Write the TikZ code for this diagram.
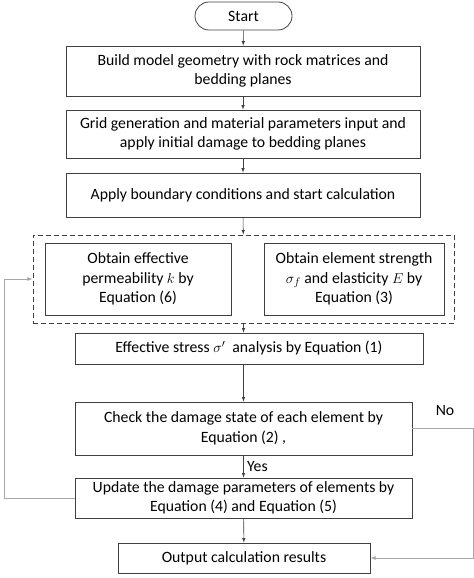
\documentclass[tikz,border=0pt]{standalone}
\usepackage{fontspec}
\setmainfont{Carlito}
\usetikzlibrary{arrows,positioning,shapes,calc,backgrounds}
\usepackage{xcolor}
\definecolor{boxline}{HTML}{404040}
\definecolor{loopline}{HTML}{A8A8A8}

\begin{document}
\begin{tikzpicture}[x=1bp,y=-1bp,
    stepbox/.style={draw=boxline,line width=0.8pt,align=center,inner sep=2pt,
      font=\fontsize{15.8}{19.5}\selectfont},
    flow/.style={draw=boxline,line width=0.6pt,-latex},
    back/.style={draw=loopline,line width=0.8pt,-latex}]
    \useasboundingbox (0,0) rectangle (474,578);
    \node[stepbox,rounded corners=14bp,minimum width=97bp,minimum height=28bp] (start) at (243.5,16) {Start};
    \node[stepbox,minimum width=354bp,minimum height=50bp] (build) at (243,71) {Build model geometry with rock matrices and\\bedding planes};
    \node[stepbox,minimum width=354bp,minimum height=48bp] (grid) at (243,134) {Grid generation and material parameters input and\\apply initial damage to bedding planes};
    \node[stepbox,minimum width=354bp,minimum height=44bp] (bound) at (243,195) {Apply boundary conditions and start calculation};
    \node[draw=boxline,dash pattern=on 5bp off 3bp,line width=0.8pt,minimum width=421bp,minimum height=88bp] (group) at (243.5,279) {};
    \node[stepbox,minimum width=186bp,minimum height=72bp] (perm) at (138,279) {Obtain effective\\permeability $k$ by\\Equation (6)};
    \node[stepbox,minimum width=180bp,minimum height=72bp] (strength) at (354,279) {Obtain element strength\\$\sigma_f$ and elasticity $E$ by\\Equation (3)};
    \node[stepbox,minimum width=348bp,minimum height=31bp] (stress) at (249,348.5) {Effective stress $\sigma'$~ analysis by Equation (1)};
    \node[stepbox,minimum width=337bp,minimum height=53bp] (check) at (243.5,428.5) {Check the damage state of each element by\\Equation (2) ,};
    \node[stepbox,minimum width=337bp,minimum height=40bp] (update) at (243.5,498) {Update the damage parameters of elements by\\Equation (4) and Equation (5)};
    \node[stepbox,minimum width=252bp,minimum height=30bp] (output) at (244,558) {Output calculation results};
    \coordinate (noright) at (473,0);
    \coordinate (loopleft) at (4,0);

    \draw[flow] (start) -- (build);
    \draw[flow] (build) -- (grid);
    \draw[flow] (grid) -- (bound);
    \draw[flow] (bound) -- (group);
    \draw[flow] (group.south) -- (group.south |- stress.north);
    \draw[flow] (check.north |- stress.south) -- (check.north);
    \draw[flow] (check) -- node[right,font=\fontsize{15.8}{17}\selectfont] {Yes} (update);
    \draw[flow] (update) -- (output);
    \draw[back] (check.east) -- (check.east -| noright) |- (output.east);
    \node[font=\fontsize{15.8}{17}\selectfont] (no) at (445,410) {No};
    \draw[back] (update.west) -- (update.west -| loopleft) |- (group.west);
  \end{tikzpicture}
\end{document}
